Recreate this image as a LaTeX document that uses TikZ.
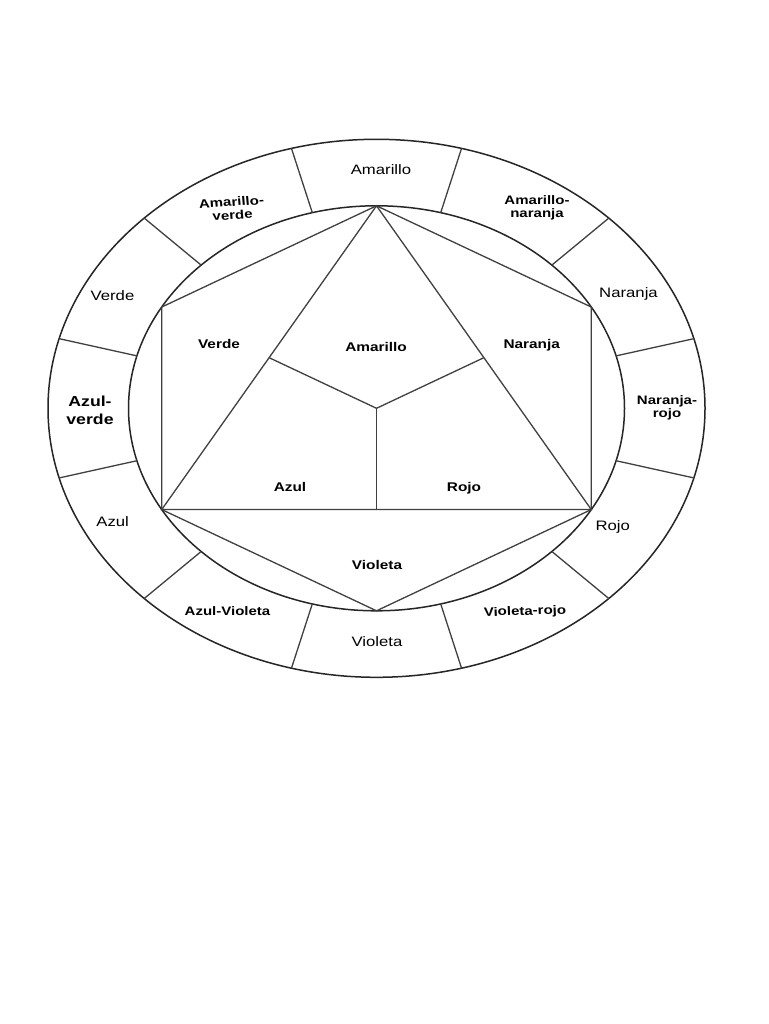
\documentclass[tikz,border=0pt]{standalone}
\usepackage{fontspec}
\setmainfont{Liberation Sans}
\usetikzlibrary{calc}
\begin{document}
\begin{tikzpicture}[x=1pt,y=-1pt,
  ring/.style={draw=black!85, line width=1.5pt},
  seg/.style={draw=black!75, line width=1.3pt},
  outlab/.style={font=\fontsize{13.7}{16}\selectfont, xscale=1.22, align=center, inner sep=0pt},
  outbold/.style={font=\bfseries\fontsize{12.3}{13.3}\selectfont, xscale=1.22, align=center, inner sep=0pt},
  bigbold/.style={font=\bfseries\fontsize{14.5}{17.6}\selectfont, xscale=1.22, align=center, inner sep=0pt},
  inlab/.style={font=\bfseries\fontsize{12.6}{15}\selectfont, xscale=1.22, inner sep=0pt}]
\useasboundingbox[fill=white] (0,0) rectangle (768,1024);
\def\cx{376.5}\def\cy{408.3}
% ellipses
\draw[ring] (\cx,\cy) ellipse [x radius=328.5, y radius=269];
\draw[ring] (\cx,\cy) ellipse [x radius=248, y radius=202.5];
% points on inner and outer ellipses
\foreach \t in {15,30,45,75,90,105,135,150,165,195,210,225,255,270,285,315,330,345}{
  \coordinate (i\t) at ({\cx+248*cos(\t)},{\cy-202.5*sin(\t)});
  \coordinate (o\t) at ({\cx+328.5*cos(\t)},{\cy-269*sin(\t)});
}
% ring dividers
\foreach \t in {15,45,75,105,135,165,195,225,255,285,315,345}{
  \draw[seg] (i\t) -- (o\t);
}
% hexagon and triangle
\draw[seg] (i90) -- (i150) -- (i210) -- (i270) -- (i330) -- (i30) -- cycle;
\draw[seg] (i90) -- (i210) -- (i330) -- cycle;
% inner Y
\coordinate (ctr) at (\cx,\cy);
\coordinate (mL) at ($(i90)!0.5!(i210)$);
\coordinate (mR) at ($(i90)!0.5!(i330)$);
\coordinate (mB) at ($(i210)!0.5!(i330)$);
\draw[seg] (mL) -- (ctr) -- (mR);
\draw[seg] (ctr) -- (mB);
% outer labels
\node[outlab] (oAm) at (381,170) {Amarillo};
\node[outbold, rotate=4] (oAmV) at (232,208.5) {Amarillo-\\verde};
\node[outbold] (oAmN) at (537,207.5) {Amarillo-\\naranja};
\node[outlab] (oVe) at (112.5,296) {Verde};
\node[outlab] (oNa) at (628.5,294) {Naranja};
\node[bigbold] (oAzV) at (90,410.5) {Azul-\\verde};
\node[outbold] (oNaR) at (667,407.7) {Naranja-\\rojo};
\node[outlab] (oAz) at (112.7,521.7) {Azul};
\node[outlab] (oRo) at (612.7,527) {Rojo};
\node[outbold] (oAzVi) at (227.5,610.7) {Azul-Violeta};
\node[outbold, rotate=2] (oViR) at (525,612) {Violeta-rojo};
\node[outlab] (oVi) at (377,641.5) {Violeta};
% inner labels
\node[inlab] (iVe) at (219,344.3) {Verde};
\node[inlab] (iAm) at (376,347) {Amarillo};
\node[inlab] (iNa) at (531.7,345) {Naranja};
\node[inlab] (iAz) at (290,487.3) {Azul};
\node[inlab] (iRo) at (464,488) {Rojo};
\node[inlab] (iVi) at (377,565) {Violeta};
\end{tikzpicture}
\end{document}
